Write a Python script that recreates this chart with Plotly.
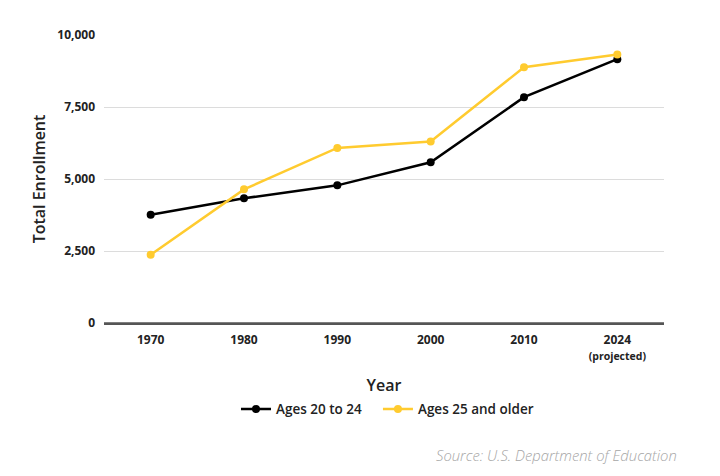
import plotly.graph_objects as go

years = ["1970", "1980", "1990", "2000", "2010", "2024"]
year_labels = ["1970", "1980", "1990", "2000", "2010",
               "2024<br><span style='font-size:10.5px'>(projected)</span>"]
ages_20_24 = [3760, 4330, 4780, 5580, 7840, 9160]
ages_25_up = [2370, 4640, 6080, 6300, 8880, 9320]
y_ticks = [0, 2500, 5000, 7500, 10000]
y_tick_labels = ["0", "2,500", "5,000", "7,500", "10,000"]

FONT = "Open Sans"
legend_font = dict(size=13.5, color="#222222", weight=600)

fig = go.Figure()
fig.add_trace(go.Scatter(x=years, y=ages_20_24, name="Ages 20 to 24", mode="lines+markers",
                         line=dict(color="#000000", width=2.5), marker=dict(size=8, color="#000000"),
                         legend="legend"))
fig.add_trace(go.Scatter(x=years, y=ages_25_up, name="Ages 25 and older", mode="lines+markers",
                         line=dict(color="#FFCB2F", width=2.5), marker=dict(size=8, color="#FFCB2F"),
                         legend="legend2"))

fig.update_layout(
    width=720, height=476,
    margin=dict(l=96, r=64, t=27, b=161),
    paper_bgcolor="white", plot_bgcolor="white",
    font=dict(family=FONT, color="#222222"),
    showlegend=True,
    legend=dict(orientation="h", x=0.2357, xanchor="left", y=-0.246, yanchor="top",
                font=legend_font, itemwidth=30),
    legend2=dict(orientation="h", x=0.4892, xanchor="left", y=-0.246, yanchor="top",
                 font=legend_font, itemwidth=30),
    xaxis=dict(
        tickmode="array", tickvals=years, ticktext=year_labels, range=[-0.5, 5.5],
        tickfont=dict(size=12, color="#222222", weight="bold"),
        showgrid=False, showline=True, linecolor="#555555", linewidth=1.5,
        ticks="", ticklen=0, ticklabelstandoff=5, automargin=False,
        title=dict(text="Year", font=dict(size=16, color="#222222", weight=600), standoff=18),
    ),
    yaxis=dict(
        range=[0, 10000], tickmode="array", tickvals=y_ticks, ticktext=y_tick_labels,
        tickfont=dict(size=12, color="#222222", weight="bold"),
        showgrid=True, gridcolor="#dcdcdc", gridwidth=1,
        zeroline=False, showline=False, ticks="", ticklabelstandoff=8, automargin=False,
        title=dict(text="Total Enrollment", font=dict(size=16, color="#222222", weight=600), standoff=7),
    ),
)

fig.add_shape(type="line", xref="paper", yref="y", x0=0, x1=1, y0=0, y1=0,
              line=dict(color="#555555", width=1.5))

fig.add_annotation(text="<i>Source: U.S. Department of Education</i>", xref="paper", yref="paper",
                   x=1.027, xanchor="right", y=-0.46, yanchor="middle", showarrow=False,
                   font=dict(size=14.8, color="#a6a6a6", family=FONT, weight=300))

fig.write_html("out.html")
